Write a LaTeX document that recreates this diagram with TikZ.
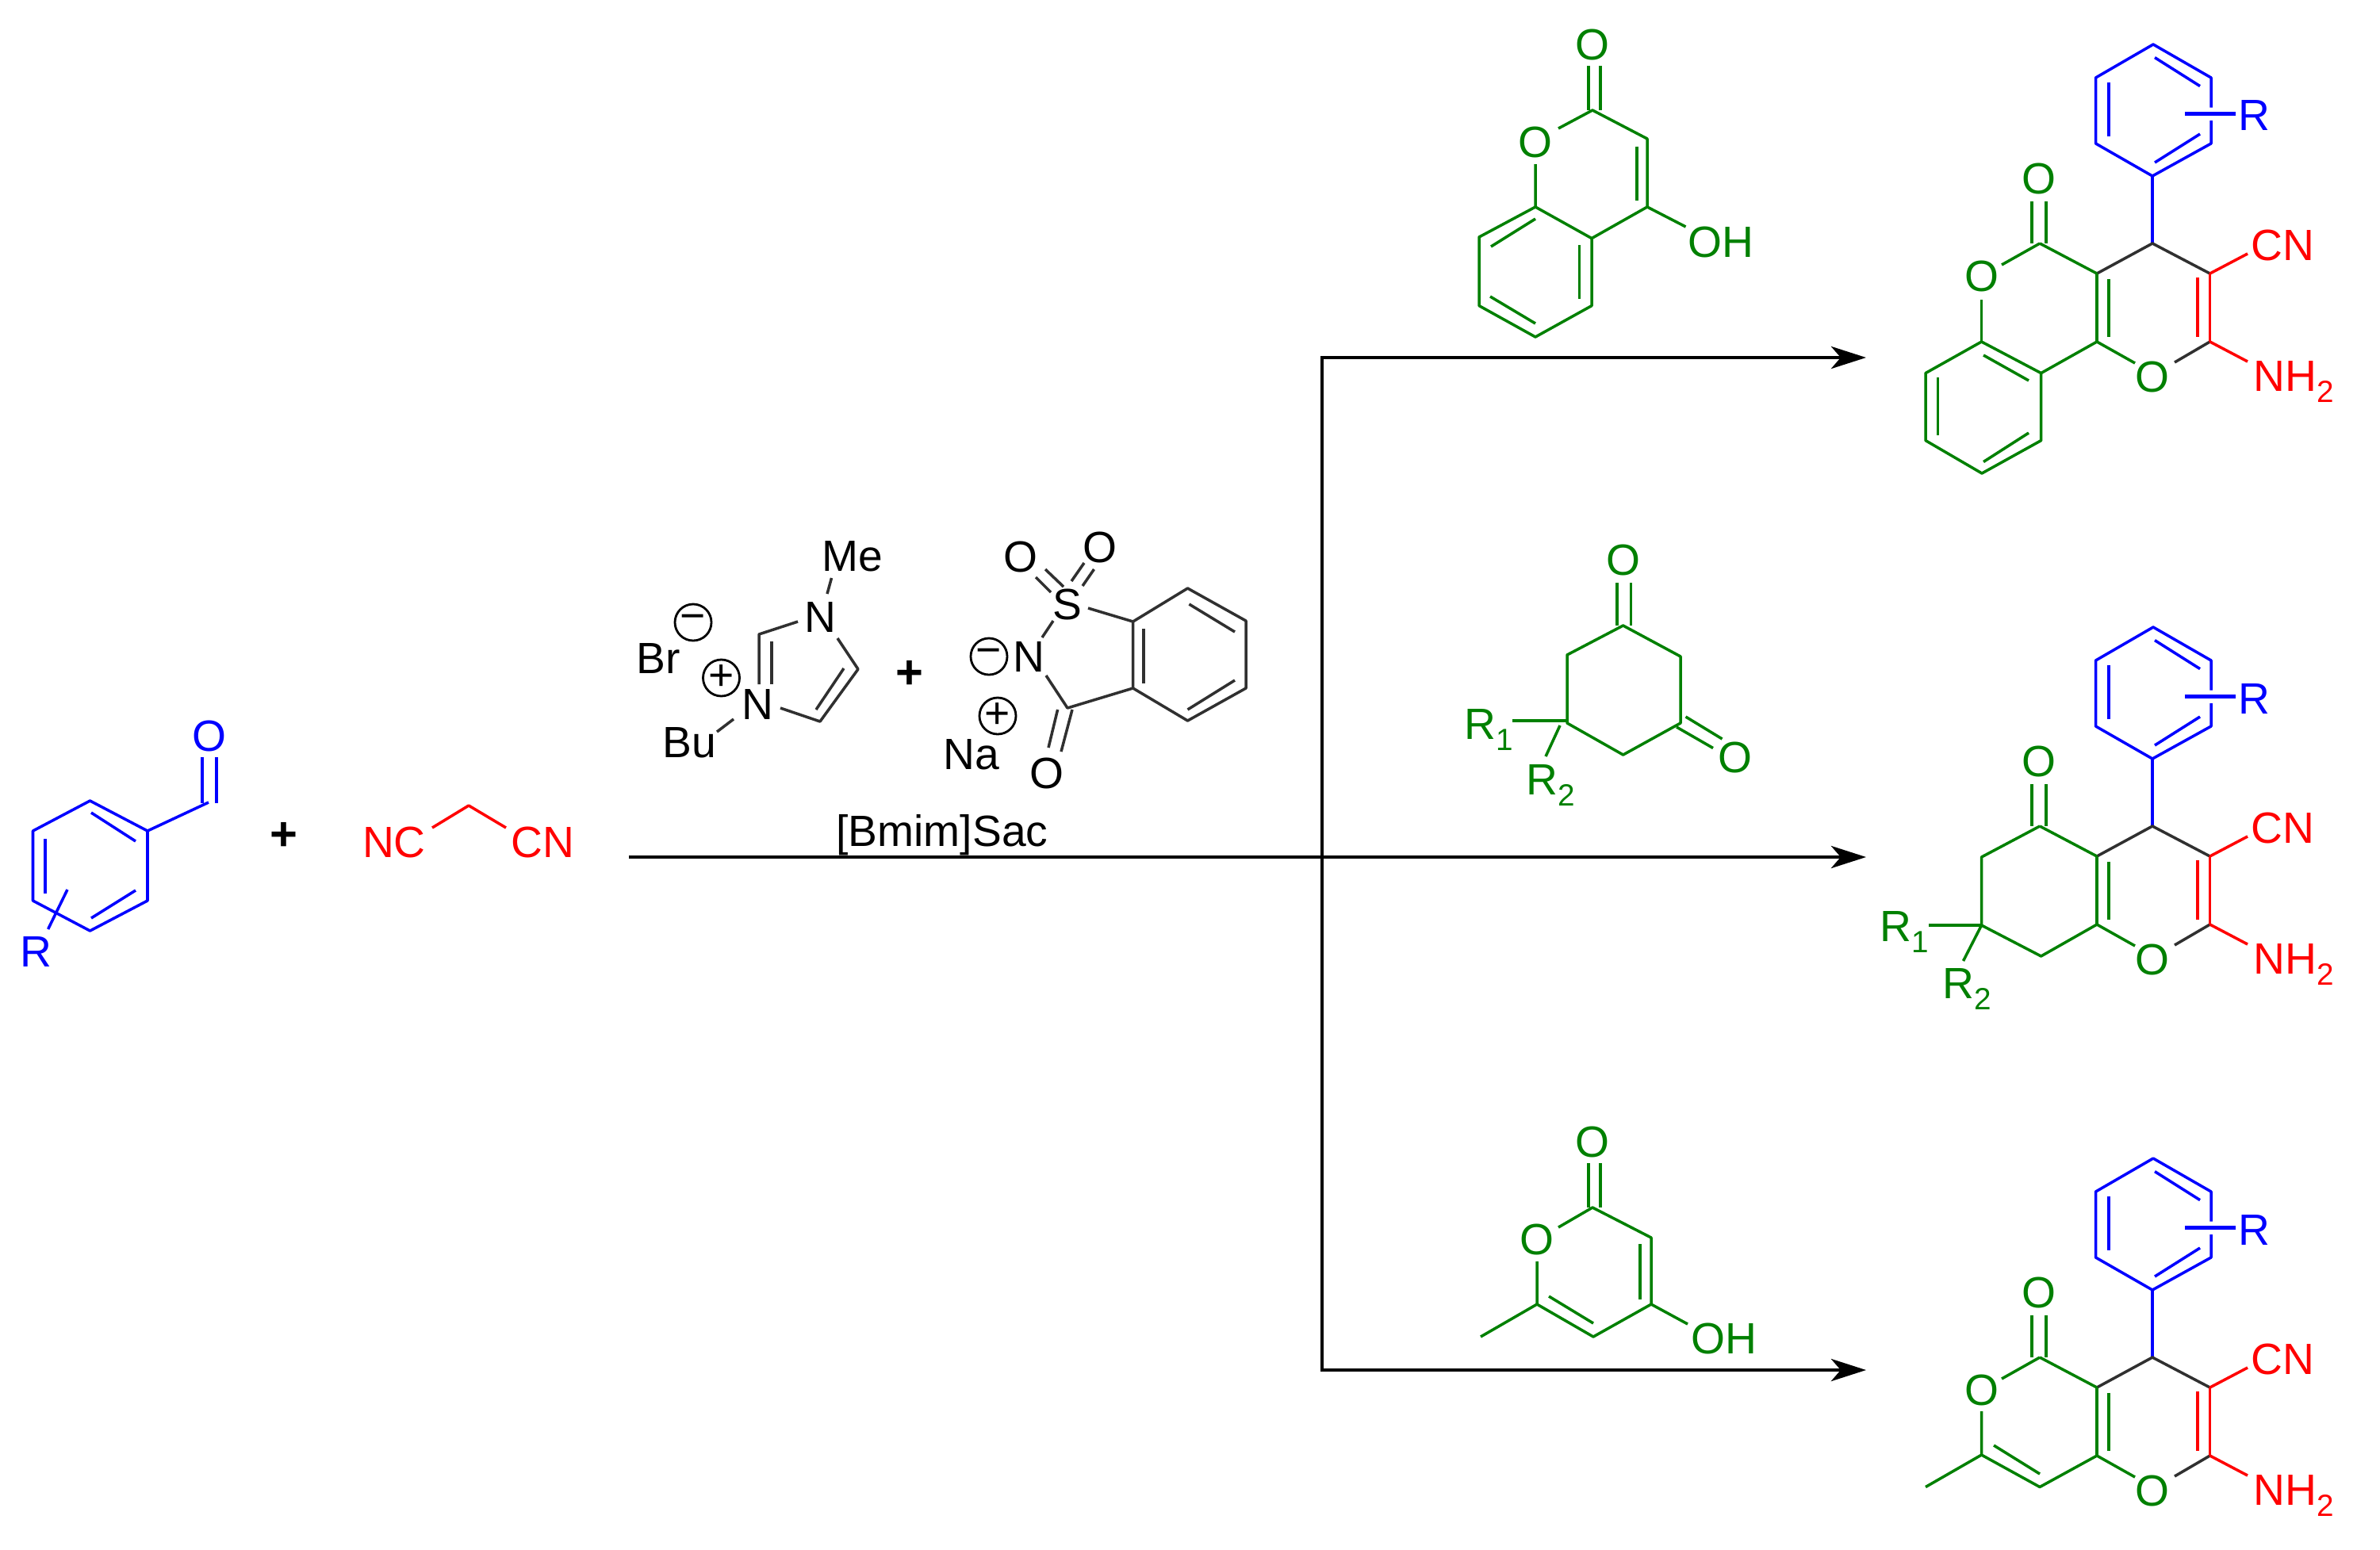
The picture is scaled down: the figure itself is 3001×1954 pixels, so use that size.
\documentclass[tikz,border=0pt]{standalone}
\usepackage{fontspec}
\setmainfont{Liberation Sans}
\usetikzlibrary{arrows.meta}
\newcommand{\lab}{\fontsize{15.7}{18}\selectfont}
\newcommand{\labsub}[1]{\raisebox{-0.14cm}{\fontsize{11}{12}\selectfont #1}}
\definecolor{cgreen}{HTML}{008000}
\definecolor{cblue}{HTML}{0000FF}
\definecolor{cred}{HTML}{FF0000}
\definecolor{cdark}{HTML}{303030}
\tikzset{
  bg/.style={draw=cgreen,line width=1pt,line join=round},
  bb/.style={draw=cblue,line width=1pt,line join=round},
  br/.style={draw=cred,line width=1pt,line join=round},
  bk/.style={draw=cdark,line width=1pt,line join=round},
  bthick/.style={line width=1.4pt},
  arr/.style={draw=black,line width=1.4pt,-{Stealth[length=0.44cm,width=0.28cm,inset=0.12cm]}},
  tk/.style={inner sep=0pt,font=\lab,text=black},
  tg/.style={inner sep=0pt,font=\lab,text=cgreen},
  tb/.style={inner sep=0pt,font=\lab,text=cblue},
  tr/.style={inner sep=0pt,font=\lab,text=cred},
  plusmark/.style={inner sep=0pt,font=\fontsize{17}{18}\selectfont\bfseries,text=black},
  chg/.style={circle,draw=black,line width=0.8pt,minimum size=0.46cm,inner sep=0pt,font=\lab,text=black}
}
% common core of the three products
\newcommand{\prodcore}{%
  % phenyl
  \draw[bb] (2788,135.6) -- (2788,98) -- (2715,56) -- (2642.5,98) -- (2642.5,181) -- (2714,222) -- (2788,181) -- (2788,152);
  \draw[bb] (2717,72.6) -- (2774,108.6);
  \draw[bb] (2659,103.6) -- (2659,172);
  \draw[bb] (2717,205) -- (2774,169);
  \draw[bb,bthick] (2755,143.5) -- (2818.7,143.5);
  \node[tb] (r) at (2842,146) {R};
  \draw[bb] (2714,222) -- (2714,307);
  % pyran
  \draw[bk] (2644,345) -- (2714,307) -- (2786.5,345);
  \draw[bk] (2786.5,431) -- (2742,457);
  \draw[bg] (2644,431) -- (2692,458);
  \draw[bg] (2644,345) -- (2644,431);
  \draw[bg] (2659,351.6) -- (2659,425);
  \draw[br] (2786.5,345) -- (2786.5,431);
  \draw[br] (2771,350) -- (2771,425);
  \draw[br] (2786.5,345) -- (2834,320);
  \draw[br] (2786.5,431) -- (2834,456);
  \node[tr] (cn) at (2878,309) {CN};
  \node[tr,anchor=base west] (nh) at (2841,493) {NH\labsub{2}};
  \node[tg] (oring) at (2714,475) {O};
  % carbonyl
  \draw[bg] (2644,345) -- (2572,307);
  \draw[bg] (2562,254) -- (2562,307);
  \draw[bg] (2580,254) -- (2580,307);
  \node[tg] (oket) at (2571,225) {O};
}
\begin{document}
\begin{tikzpicture}[x=0.01cm,y=-0.01cm]
\useasboundingbox (0,0) rectangle (3001,1954);
% ---------- benzaldehyde
\draw[bb] (113.5,1010) -- (186,1048) -- (186,1136) -- (113.5,1174) -- (41.5,1136) -- (41.5,1048) -- cycle;
\draw[bb] (115,1025) -- (171,1061);
\draw[bb] (57,1058) -- (57,1127);
\draw[bb] (115,1158) -- (171,1123);
\draw[bb] (186,1048) -- (263,1012);
\draw[bb] (255,955) -- (255,1013);
\draw[bb] (273,955) -- (273,1013);
\node[tb] (bo) at (264,928) {O};
\draw[bb] (85,1122) -- (60.6,1172);
\node[tb] (br) at (45,1200) {R};
\node[plusmark] (plusa) at (358,1055) {+};
% ---------- malononitrile
\draw[br] (545,1044) -- (591,1016) -- (638,1044);
\node[tr] (ncl) at (497,1062) {NC};
\node[tr] (ncr) at (684,1062) {CN};
% ---------- arrows
\coordinate (start) at (793,1081);
\coordinate (j) at (1667,1081);
\coordinate (jt) at (1667,451);
\coordinate (jb) at (1667,1728);
\coordinate (e1) at (2353,451);
\coordinate (e2) at (2353,1081);
\coordinate (e3) at (2353,1728);
\draw[arr] (start) -- (e2);
\draw[arr] (j) -- (jt) -- (e1);
\draw[arr] (j) -- (jb) -- (e3);
% ---------- catalyst: imidazolium
\node[tk] (me) at (1075,702) {Me};
\node[tk] (n3) at (1034,778) {N};
\node[tk] (n1) at (955,888) {N};
\node[tk] (bu) at (869,937) {Bu};
\node[tk] (brm) at (830,830) {Br};
\node[chg] (cm1) at (874,785) {−};
\node[chg] (cp1) at (909.5,855) {+};
\draw[bk] (1048.5,729) -- (1043,749);
\draw[bk] (925,907) -- (904,923);
\draw[bk] (1006,784) -- (957,800) -- (957,863);
\draw[bk] (973,809) -- (973,863);
\draw[bk] (1056,805) -- (1082,844) -- (1034,910) -- (984,893);
\draw[bk] (1064,843) -- (1029,895);
\node[plusmark] (plusb) at (1147,851) {+};
% ---------- catalyst: saccharinate
\node[tk] (s) at (1346,762) {S};
\node[tk] (so1) at (1287,702) {O};
\node[tk] (so2) at (1387,690) {O};
\node[tk] (nn) at (1297,828) {N};
\node[chg] (cm2) at (1247,828) {−};
\node[tk] (oc) at (1320,975) {O};
\node[tk] (na) at (1225,952) {Na};
\node[chg] (cp2) at (1258,903) {+};
\draw[bk] (1318,718) -- (1341,740);
\draw[bk] (1306,728) -- (1325,747);
\draw[bk] (1367,710) -- (1351,733);
\draw[bk] (1379.5,718) -- (1365,739);
\draw[bk] (1372,767) -- (1428.6,784);
\draw[bk] (1328,783) -- (1314,804);
\draw[bk] (1319,852) -- (1346,893) -- (1428.6,868);
\draw[bk] (1333.6,895) -- (1322,943);
\draw[bk] (1352,895) -- (1338,948);
\draw[bk] (1428.6,784) -- (1497.5,742) -- (1571,783) -- (1571,868) -- (1497.5,909) -- (1428.6,868) -- cycle;
\draw[bk] (1442,793) -- (1442,862);
\draw[bk] (1499.4,762) -- (1557,797);
\draw[bk] (1497.5,895) -- (1557,858);
\node[tk,font=\fontsize{15.7}{18}\selectfont,anchor=base] (bmim) at (1188,1067) {[Bmim]Sac};
% ---------- reactant 1: 4-hydroxycoumarin
\node[tg] (a1o) at (2008,56) {O};
\node[tg] (a1r) at (1936,179) {O};
\node[tg] (a1oh) at (2170,305) {OH};
\draw[bg] (2003,83) -- (2003,139);
\draw[bg] (2018,83) -- (2018,139);
\draw[bg] (1965,162) -- (2008,139) -- (2077,175) -- (2077,261) -- (2007,300.6) -- (1936,261) -- (1936,207);
\draw[bg] (2064,184.5) -- (2064,253);
\draw[bg] (2077,261) -- (2125.5,286);
\draw[bg] (1936,261) -- (1865,299) -- (1865,385.6) -- (1936,425) -- (2007,385.6) -- (2007,300.6);
\draw[bg] (1991.5,309) -- (1991.5,377);
\draw[bg] (1880,311) -- (1936,276);
\draw[bg] (1879,374) -- (1936,408);
% ---------- reactant 2: cyclohexanedione
\node[tg] (a2o) at (2046.6,706) {O};
\node[tg] (a2q) at (2188,955) {O};
\node[tg,anchor=base west] (a2r1) at (1846,932) {R\labsub{1}};
\node[tg,anchor=base west] (a2r2) at (1924,1002) {R\labsub{2}};
\draw[bg] (2039,735) -- (2039,789);
\draw[bg] (2056.6,735) -- (2056.6,789);
\draw[bg] (2046.6,789) -- (2119,828) -- (2119,912) -- (2046.6,952) -- (1976,912) -- (1976,826) -- cycle;
\draw[bg] (2125.5,904) -- (2171.5,932);
\draw[bg] (2114,917) -- (2160,943.5);
\draw[bg,bthick] (1907,909) -- (1976,909);
\draw[bg] (1967,915) -- (1949,954);
% ---------- reactant 3: 4-hydroxy-6-methylpyranone
\node[tg] (a3o) at (2008,1440) {O};
\node[tg] (a3r) at (1938,1563.5) {O};
\node[tg] (a3oh) at (2174,1688) {OH};
\draw[bg] (2003,1467) -- (2003,1523);
\draw[bg] (2018,1467) -- (2018,1523);
\draw[bg] (1965,1548) -- (2008,1523) -- (2082,1561) -- (2082,1645) -- (2009,1686) -- (1938,1645) -- (1938,1591);
\draw[bg] (2068,1569) -- (2068,1639);
\draw[bg] (1953,1635) -- (2009,1669);
\draw[bg] (1938,1645) -- (1867,1686);
\draw[bg] (2082,1645) -- (2128,1670);
% ---------- product 1
\begin{scope}[name prefix=p1-]
\prodcore
\node[tg] (o) at (2499,348) {O};
\draw[bg] (2572,307) -- (2524,334);
\draw[bg] (2498.5,378) -- (2498.5,431);
\draw[bg] (2498.5,431) -- (2428,470.6) -- (2428,555.6) -- (2499,597) -- (2573.6,555.6) -- (2573.6,470.6) -- cycle;
\draw[bg] (2573.6,470.6) -- (2644,431);
\draw[bg] (2501,448) -- (2558,480);
\draw[bg] (2443.4,476) -- (2443.4,549);
\draw[bg] (2501,582.5) -- (2558,546);
\end{scope}
% ---------- product 2
\begin{scope}[shift={(0,735)},name prefix=p2-]
\prodcore
\end{scope}
\node[tg,anchor=base west] (p2r1) at (2370,1187) {R\labsub{1}};
\node[tg,anchor=base west] (p2r2) at (2449,1259) {R\labsub{2}};
\draw[bg] (2572,1042) -- (2498.5,1081) -- (2498.5,1167) -- (2573.6,1206) -- (2644,1166);
\draw[bg,bthick] (2432,1167) -- (2498.5,1167);
\draw[bg] (2498.5,1167) -- (2475.5,1212);
% ---------- product 3
\begin{scope}[shift={(0,1405)},name prefix=p3-]
\prodcore
\end{scope}
\node[tg] (p3o) at (2499,1753) {O};
\draw[bg] (2572,1712) -- (2524,1739);
\draw[bg] (2498.5,1780) -- (2498.5,1835) -- (2572,1875.5) -- (2644,1836);
\draw[bg] (2514,1823) -- (2572,1859);
\draw[bg] (2498.5,1835) -- (2428,1875.5);
\end{tikzpicture}
\end{document}
